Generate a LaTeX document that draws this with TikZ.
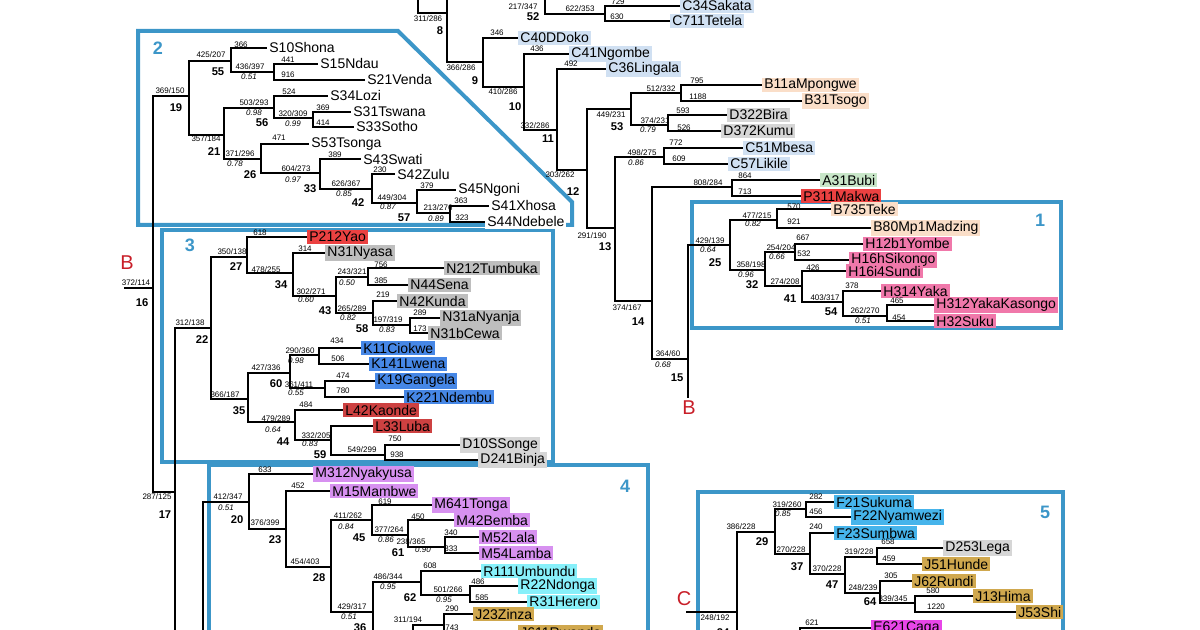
\documentclass[tikz,border=0pt]{standalone}
\usepackage{fontspec}
\setmainfont{Liberation Sans}
\definecolor{frameblue}{RGB}{60,150,200}
\definecolor{cblue}{RGB}{208,224,242}
\definecolor{bpeach}{RGB}{250,222,200}
\definecolor{dgrey}{RGB}{214,214,214}
\definecolor{ngrey}{RGB}{190,190,190}
\definecolor{agreen}{RGB}{200,230,200}
\definecolor{pred}{RGB}{235,65,65}
\definecolor{hpink}{RGB}{240,120,170}
\definecolor{kblue}{RGB}{70,135,230}
\definecolor{lred}{RGB}{205,65,65}
\definecolor{mpurple}{RGB}{215,145,240}
\definecolor{rcyan}{RGB}{135,240,250}
\definecolor{jgold}{RGB}{208,168,78}
\definecolor{fblue}{RGB}{70,180,235}
\definecolor{emag}{RGB}{232,70,232}
\definecolor{cladered}{RGB}{200,30,40}
\tikzset{
  leaf/.style={anchor=west,fill=#1,font=\fontsize{7}{7}\selectfont,inner xsep=1pt,inner ysep=0.6pt,minimum height=7.4pt},
  leaf/.default=white,
  bl/.style={font=\fontsize{4}{4}\selectfont,inner sep=0pt},
  pp/.style={font=\fontsize{4}{4}\selectfont\itshape,inner sep=0pt},
  nn/.style={font=\fontsize{5.6}{6}\selectfont\bfseries,inner sep=0pt},
  frame/.style={draw=frameblue,line width=2pt},
  framelbl/.style={font=\fontsize{9}{9}\selectfont\bfseries,text=frameblue},
  cladelbl/.style={font=\fontsize{10}{10}\selectfont,text=cladered},
  br/.style={line width=0.6pt}
}
\begin{document}
\begin{tikzpicture}[x=0.5pt,y=-0.5pt]
\useasboundingbox (0,0) rectangle (1200,630);
%
% frames of the clades
\draw[frame] (138,31) -- (398,31) -- (572,202) -- (572,225) -- (138,225) -- cycle;
\draw[frame] (162,230) -- (553,230) -- (553,462) -- (162,462) -- cycle;
\draw[frame] (209,465) -- (648,465) -- (648,650) -- (209,650) -- cycle;
\draw[frame] (692,202) -- (1061,202) -- (1061,328) -- (692,328) -- cycle;
\draw[frame] (698,492) -- (1063,492) -- (1063,650) -- (698,650) -- cycle;
\node[framelbl] (f1) at (1040,220) {1};
\node[framelbl] (f2) at (158,48) {2};
\node[framelbl] (f3) at (190,245) {3};
\node[framelbl] (f4) at (625,486) {4};
\node[framelbl] (f5) at (1045,512) {5};
\node[cladelbl] (cB1) at (127,263) {B};
\node[cladelbl] (cB2) at (689,408) {B};
\node[cladelbl] (cC) at (684,599) {C};
%
% internal nodes: vertical line x, stem y
\coordinate (n7) at (418,-20);   \coordinate (top8) at (447,-20);
\coordinate (n8) at (447,13);    \coordinate (n9) at (483,62);
\coordinate (n10) at (524,87);   \coordinate (n11) at (557,130);
\coordinate (n12) at (587,170);  \coordinate (n13) at (615,228);
\coordinate (n14) at (652,301);  \coordinate (n15) at (688,359);
\coordinate (n53) at (631,109);  \coordinate (n53a) at (681,93);
\coordinate (n53b) at (668,125); \coordinate (n13a) at (664,157);
\coordinate (n14a) at (732,187); \coordinate (n25) at (730,245);
\coordinate (n25a) at (777,220); \coordinate (n32) at (765,270);
\coordinate (n32a) at (795,252); \coordinate (n41) at (802,286);
\coordinate (n54) at (843,302);  \coordinate (n54a) at (887,316);
\coordinate (n52) at (545,-6);   \coordinate (n52a) at (605,14);
\coordinate (n15end) at (688,398);
%
\coordinate (stemB) at (124,288); \coordinate (n16) at (153,288);
\coordinate (n19) at (189,96);   \coordinate (n55) at (231,61);
\coordinate (n55a) at (274,72);  \coordinate (n21) at (224,135);
\coordinate (n56) at (274,108);  \coordinate (n56a) at (313,118);
\coordinate (n26) at (261,159);  \coordinate (n33) at (320,173);
\coordinate (n42) at (372,189);  \coordinate (n57) at (417,203);
\coordinate (n57a) at (450,213);
\coordinate (n17) at (175,492);  \coordinate (n22) at (211,328);
\coordinate (n27) at (247,257);  \coordinate (n34) at (293,273);
\coordinate (n43) at (336,296);  \coordinate (n43a) at (368,277);
\coordinate (n58) at (373,313);  \coordinate (n58a) at (410,325);
\coordinate (n35) at (248,399);  \coordinate (n60) at (290,373);
\coordinate (n60a) at (319,355); \coordinate (n60b) at (325,388);
\coordinate (n44) at (295,422);  \coordinate (n59) at (331,440);
\coordinate (n59a) at (385,455);
\coordinate (n18) at (203,650);  \coordinate (n20) at (249,502);
\coordinate (n23) at (286,529);  \coordinate (n28) at (331,567);
\coordinate (n45) at (372,520);  \coordinate (n45a) at (408,535);
\coordinate (n61) at (445,547);  \coordinate (n36) at (373,612);
\coordinate (n62) at (421,582);  \coordinate (n62a) at (470,595);
\coordinate (n46) at (413,650);  \coordinate (n46a) at (444,625);
%
\coordinate (stemC) at (686,612); \coordinate (n24) at (737,612);
\coordinate (n29) at (775,532);  \coordinate (n29a) at (806,509);
\coordinate (n37) at (810,554);  \coordinate (n47) at (845,574);
\coordinate (n47a) at (877,557); \coordinate (n64) at (880,593);
\coordinate (n64a) at (915,603); \coordinate (n24a) at (800,650);
%
% leaves
\node[leaf=cblue] (c34) at (680,6) {C34Sakata};
\node[leaf=cblue] (c711) at (670,21) {C711Tetela};
\node[leaf=cblue] (c40) at (518,38) {C40DDoko};
\node[leaf=cblue] (c41) at (569,54) {C41Ngombe};
\node[leaf=cblue] (c36) at (606,69) {C36Lingala};
\node[leaf=bpeach] (b11) at (762,85) {B11aMpongwe};
\node[leaf=bpeach] (b31) at (802,101) {B31Tsogo};
\node[leaf=dgrey] (d322) at (727,115) {D322Bira};
\node[leaf=dgrey] (d372) at (721,131) {D372Kumu};
\node[leaf=cblue] (c51) at (743,148) {C51Mbesa};
\node[leaf=cblue] (c57) at (728,164) {C57Likile};
\node[leaf=agreen] (a31) at (820,180) {A31Bubi};
\node[leaf=pred] (p311) at (801,196) {P311Makwa};
\node[leaf=bpeach] (b735) at (831,209) {B735Teke};
\node[leaf=bpeach] (b80) at (871,228) {B80Mp1Madzing};
\node[leaf=hpink] (h12) at (863,244) {H12b1Yombe};
\node[leaf=hpink] (h16h) at (849,260) {H16hSikongo};
\node[leaf=hpink] (h16i) at (846,271) {H16i4Sundi};
\node[leaf=hpink] (h314) at (881,291) {H314Yaka};
\node[leaf=hpink] (h312) at (934,305) {H312YakaKasongo};
\node[leaf=hpink] (h32) at (934,321) {H32Suku};
%
\node[leaf] (s10) at (267,48) {S10Shona};
\node[leaf] (s15) at (318,64) {S15Ndau};
\node[leaf] (s21) at (365,80) {S21Venda};
\node[leaf] (s34) at (328,96) {S34Lozi};
\node[leaf] (s31) at (351,112) {S31Tswana};
\node[leaf] (s33) at (354,127) {S33Sotho};
\node[leaf] (s53) at (309,144) {S53Tsonga};
\node[leaf] (s43) at (361,159) {S43Swati};
\node[leaf] (s42) at (395,174) {S42Zulu};
\node[leaf] (s45) at (456,190) {S45Ngoni};
\node[leaf] (s41) at (489,206) {S41Xhosa};
\node[leaf] (s44) at (485,222) {S44Ndebele};
%
\node[leaf=pred] (p212) at (307,237) {P212Yao};
\node[leaf=ngrey] (n31) at (325,253) {N31Nyasa};
\node[leaf=ngrey] (n212) at (444,268) {N212Tumbuka};
\node[leaf=ngrey] (n44s) at (408,285) {N44Sena};
\node[leaf=ngrey] (n42k) at (397,301) {N42Kunda};
\node[leaf=ngrey] (n31a) at (440,318) {N31aNyanja};
\node[leaf=ngrey] (n31b) at (428,333) {N31bCewa};
\node[leaf=kblue] (k11) at (361,348) {K11Ciokwe};
\node[leaf=kblue] (k141) at (369,364) {K141Lwena};
\node[leaf=kblue] (k19) at (375,381) {K19Gangela};
\node[leaf=kblue] (k221) at (404,397) {K221Ndembu};
\node[leaf=lred] (l42) at (343,410) {L42Kaonde};
\node[leaf=lred] (l33) at (373,426) {L33Luba};
\node[leaf=dgrey] (d10) at (460,445) {D10SSonge};
\node[leaf=dgrey] (d241) at (478,460) {D241Binja};
%
\node[leaf=mpurple] (m312) at (313,474) {M312Nyakyusa};
\node[leaf=mpurple] (m15) at (330,491) {M15Mambwe};
\node[leaf=mpurple] (m641) at (432,505) {M641Tonga};
\node[leaf=mpurple] (m42) at (454,520) {M42Bemba};
\node[leaf=mpurple] (m52) at (479,537) {M52Lala};
\node[leaf=mpurple] (m54) at (479,553) {M54Lamba};
\node[leaf=rcyan] (r111) at (481,571) {R111Umbundu};
\node[leaf=rcyan] (r22) at (518,586) {R22Ndonga};
\node[leaf=rcyan] (r31) at (527,602) {R31Herero};
\node[leaf=jgold] (j23) at (473,614) {J23Zinza};
\node[leaf=jgold] (j611) at (518,632) {J611Rwanda};
%
\node[leaf=fblue] (f21) at (834,502) {F21Sukuma};
\node[leaf=fblue] (f22) at (851,517) {F22Nyamwezi};
\node[leaf=fblue] (f23) at (834,533) {F23Sumbwa};
\node[leaf=dgrey] (d253) at (943,548) {D253Lega};
\node[leaf=jgold] (j51) at (922,564) {J51Hunde};
\node[leaf=jgold] (j62) at (912,581) {J62Rundi};
\node[leaf=jgold] (j13) at (973,596) {J13Hima};
\node[leaf=jgold] (j53) at (1016,612) {J53Shi};
\node[leaf=emag] (e621) at (871,628) {E621Caga};
%
% branches
\draw[br] (n7) |- (n8);  \draw[br] (n8) -- (top8);  \draw[br] (n8) |- (n9);
\draw[br] (n52) |- (n52a);  \draw[br] (n52) -- (545,-20);
\draw[br] (n52a) |- (c34.west);  \draw[br] (n52a) |- (c711.west);
\draw[br] (n9) |- (c40.west);  \draw[br] (n9) |- (n10);
\draw[br] (n10) |- (c41.west);  \draw[br] (n10) |- (n11);
\draw[br] (n11) |- (c36.west);  \draw[br] (n11) |- (n12);
\draw[br] (n12) |- (n53);  \draw[br] (n12) |- (n13);
\draw[br] (n53) |- (n53a);  \draw[br] (n53) |- (n53b);
\draw[br] (n53a) |- (b11.west);  \draw[br] (n53a) |- (b31.west);
\draw[br] (n53b) |- (d322.west);  \draw[br] (n53b) |- (d372.west);
\draw[br] (n13) |- (n13a);  \draw[br] (n13) |- (n14);
\draw[br] (n13a) |- (c51.west);  \draw[br] (n13a) |- (c57.west);
\draw[br] (n14) |- (n14a);  \draw[br] (n14) |- (n15);
\draw[br] (n14a) |- (a31.west);  \draw[br] (n14a) |- (p311.west);
\draw[br] (n15) |- (n25);  \draw[br] (n15) -- (n15end);
\draw[br] (n25) |- (n25a);  \draw[br] (n25) |- (n32);
\draw[br] (n25a) |- (b735.west);  \draw[br] (n25a) |- (b80.west);
\draw[br] (n32) |- (n32a);  \draw[br] (n32) |- (n41);
\draw[br] (n32a) |- (h12.west);  \draw[br] (n32a) |- (h16h.west);
\draw[br] (n41) |- (h16i.west);  \draw[br] (n41) |- (n54);
\draw[br] (n54) |- (h314.west);  \draw[br] (n54) |- (n54a);
\draw[br] (n54a) |- (h312.west);  \draw[br] (n54a) |- (h32.west);
%
\draw[br] (stemB) -- (n16);
\draw[br] (n16) |- (n19);  \draw[br] (n16) |- (n17);
\draw[br] (n19) |- (n55);  \draw[br] (n19) |- (n21);
\draw[br] (n55) |- (s10.west);  \draw[br] (n55) |- (n55a);
\draw[br] (n55a) |- (s15.west);  \draw[br] (n55a) |- (s21.west);
\draw[br] (n21) |- (n56);  \draw[br] (n21) |- (n26);
\draw[br] (n56) |- (s34.west);  \draw[br] (n56) |- (n56a);
\draw[br] (n56a) |- (s31.west);  \draw[br] (n56a) |- (s33.west);
\draw[br] (n26) |- (s53.west);  \draw[br] (n26) |- (n33);
\draw[br] (n33) |- (s43.west);  \draw[br] (n33) |- (n42);
\draw[br] (n42) |- (s42.west);  \draw[br] (n42) |- (n57);
\draw[br] (n57) |- (s45.west);  \draw[br] (n57) |- (n57a);
\draw[br] (n57a) |- (s41.west);  \draw[br] (n57a) |- (s44.west);
%
\draw[br] (n17) |- (n22);  \draw[br] (n17) |- (n18);
\draw[br] (n22) |- (n27);  \draw[br] (n22) |- (n35);
\draw[br] (n27) |- (p212.west);  \draw[br] (n27) |- (n34);
\draw[br] (n34) |- (n31.west);  \draw[br] (n34) |- (n43);
\draw[br] (n43) |- (n43a);  \draw[br] (n43) |- (n58);
\draw[br] (n43a) |- (n212.west);  \draw[br] (n43a) |- (n44s.west);
\draw[br] (n58) |- (n42k.west);  \draw[br] (n58) |- (n58a);
\draw[br] (n58a) |- (n31a.west);  \draw[br] (n58a) |- (n31b.west);
\draw[br] (n35) |- (n60);  \draw[br] (n35) |- (n44);
\draw[br] (n60) |- (n60a);  \draw[br] (n60) |- (n60b);
\draw[br] (n60a) |- (k11.west);  \draw[br] (n60a) |- (k141.west);
\draw[br] (n60b) |- (k19.west);  \draw[br] (n60b) |- (k221.west);
\draw[br] (n44) |- (l42.west);  \draw[br] (n44) |- (n59);
\draw[br] (n59) |- (l33.west);  \draw[br] (n59) |- (n59a);
\draw[br] (n59a) |- (d10.west);  \draw[br] (n59a) |- (d241.west);
%
\draw[br] (n18) |- (n20);
\draw[br] (n20) |- (m312.west);  \draw[br] (n20) |- (n23);
\draw[br] (n23) |- (m15.west);  \draw[br] (n23) |- (n28);
\draw[br] (n28) |- (n45);  \draw[br] (n28) |- (n36);
\draw[br] (n45) |- (m641.west);  \draw[br] (n45) |- (n45a);
\draw[br] (n45a) |- (m42.west);  \draw[br] (n45a) |- (n61);
\draw[br] (n61) |- (m52.west);  \draw[br] (n61) |- (m54.west);
\draw[br] (n36) |- (n62);  \draw[br] (n36) |- (n46);
\draw[br] (n62) |- (r111.west);  \draw[br] (n62) |- (n62a);
\draw[br] (n62a) |- (r22.west);  \draw[br] (n62a) |- (r31.west);
\draw[br] (n46) |- (n46a);
\draw[br] (n46a) |- (j23.west);  \draw[br] (n46a) |- (j611.west);
%
\draw[br] (stemC) -- (n24);
\draw[br] (n24) |- (n29);  \draw[br] (n24) |- (n24a);
\draw[br] (n29) |- (n29a);  \draw[br] (n29) |- (n37);
\draw[br] (n29a) |- (f21.west);  \draw[br] (n29a) |- (f22.west);
\draw[br] (n37) |- (f23.west);  \draw[br] (n37) |- (n47);
\draw[br] (n47) |- (n47a);  \draw[br] (n47) |- (n64);
\draw[br] (n47a) |- (d253.west);  \draw[br] (n47a) |- (j51.west);
\draw[br] (n64) |- (j62.west);  \draw[br] (n64) |- (n64a);
\draw[br] (n64a) |- (j13.west);  \draw[br] (n64a) |- (j53.west);
\draw[br] (n24a) |- (e621.west);
%
% branch lengths
\foreach \t/\x/\y [count=\i] in {
  {311/286}/428/19, {217/347}/523/7, {622/353}/580/9, 729/618/2, 630/617/17,
  346/497/33, {366/286}/461/68, 436/537/49, {410/286}/503/92, 492/571/64,
  {332/286}/535/126, {303/262}/560/175, 795/697/81, 1188/698/97, {512/332}/661/89,
  {449/231}/611/115, 593/683/111, 526/684/128, {374/231}/655/121, 772/676/143,
  609/679/159, {498/275}/642/153, {291/190}/592/236, {808/284}/708/183, 864/745/176,
  713/745/192, {374/167}/627/308, {364/60}/668/354, {429/139}/710/241, 570/794/207,
  921/794/222, {477/215}/757/216, 667/803/238, 532/804/254, {254/204}/781/248,
  {358/198}/751/265, 426/813/268, {274/208}/785/282, 378/852/286, {403/317}/825/298,
  465/897/301, 454/899/318, {262/270}/865/311,
  {369/150}/170/91, {425/207}/211/55, 366/241/45, 441/288/60, 916/288/75,
  {436/397}/250/67, 524/289/92, {503/293}/254/103, 369/323/108, 414/323/123,
  {320/309}/293/114, {357/184}/206/139, 471/279/138, {371/296}/240/154, 389/335/155,
  {604/273}/296/169, 230/380/170, {626/367}/346/184, 379/427/186, {449/304}/392/198,
  363/461/201, 323/462/218, {213/276}/438/208,
  618/260/233, {350/138}/232/252, 314/305/249, {478/255}/266/270, 756/381/265,
  385/381/281, {243/321}/352/272, {302/271}/311/292, 219/383/295, {265/289}/352/309,
  289/420/313, 173/420/329, {197/319}/388/320, {312/138}/190/323, 434/337/341,
  506/338/359, {290/360}/300/351, 474/343/376, 780/343/391, {361/411}/299/385,
  {427/336}/266/368, {366/187}/225/395, 484/306/405, {479/289}/276/419, {332/205}/316/436,
  750/395/439, 938/397/455, {549/299}/362/450, {372/114}/136/283, {287/125}/157/497,
  633/265/470, {412/347}/228/497, 452/298/486, {376/399}/265/523, 619/385/502,
  {411/262}/348/516, 450/418/517, {377/264}/389/530, 340/451/533, 333/451/549,
  {238/365}/411/542, {454/403}/305/562, 608/430/566, {486/344}/388/577, 486/478/582,
  585/482/598, {501/266}/448/590, {429/317}/352/607, 290/452/609, {311/194}/408/620,
  743/452/628,
  282/816/497, 456/816/512, {319/260}/787/505, {386/228}/741/527, 240/816/527,
  {270/228}/791/550, 658/888/542, 459/889/559, {319/228}/859/552, {370/228}/827/569,
  305/891/576, {248/239}/863/588, 580/933/591, 1220/936/607, {339/345}/893/599,
  {248/192}/715/618, 621/812/623}
  \node[bl] (bl\i) at (\x,\y) {\t};
% posterior probabilities
\foreach \t/\x/\y [count=\i] in {
  0.79/648/130, 0.86/636/163, 0.68/663/365, 0.64/708/250, 0.82/753/224,
  0.66/777/257, 0.96/746/275, 0.51/863/321,
  0.51/249/77, 0.98/254/113, 0.99/293/124, 0.78/235/164, 0.97/293/180,
  0.85/344/194, 0.87/388/207, 0.89/436/219,
  0.50/347/283, 0.60/306/300, 0.82/348/318, 0.83/387/330, 0.98/296/361,
  0.55/296/393, 0.64/273/430, 0.83/310/444,
  0.51/226/508, 0.84/346/527, 0.86/386/540, 0.90/423/550, 0.95/388/587,
  0.95/444/600, 0.51/349/617, 0.85/783/514}
  \node[pp] (pp\i) at (\x,\y) {\t};
% node numbers
\foreach \t/\x/\y in {
  8/440/31, 52/533/17, 9/475/81, 10/515/107, 11/548/139, 12/573/192,
  53/617/127, 13/605/247, 14/638/322, 15/677/378, 25/715/263, 32/752/285,
  41/790/299, 54/831/312, 19/176/108, 55/218/72, 56/262/123, 21/214/152,
  26/250/175, 33/310/189, 42/358/203, 57/404/218, 16/142/303, 17/165/515,
  27/236/267, 34/281/285, 43/325/311, 58/362/329, 22/202/340, 60/276/384,
  35/239/411, 44/283/442, 59/320/455, 20/237/520, 23/275/540, 45/359/538,
  61/398/553, 28/319/578, 62/410/598, 36/360/628, 29/762/542, 37/797/567,
  47/832/585, 64/870/602, 24/723/633}
  \node[nn] (nn\t) at (\x,\y) {\t};
\end{tikzpicture}
\end{document}
